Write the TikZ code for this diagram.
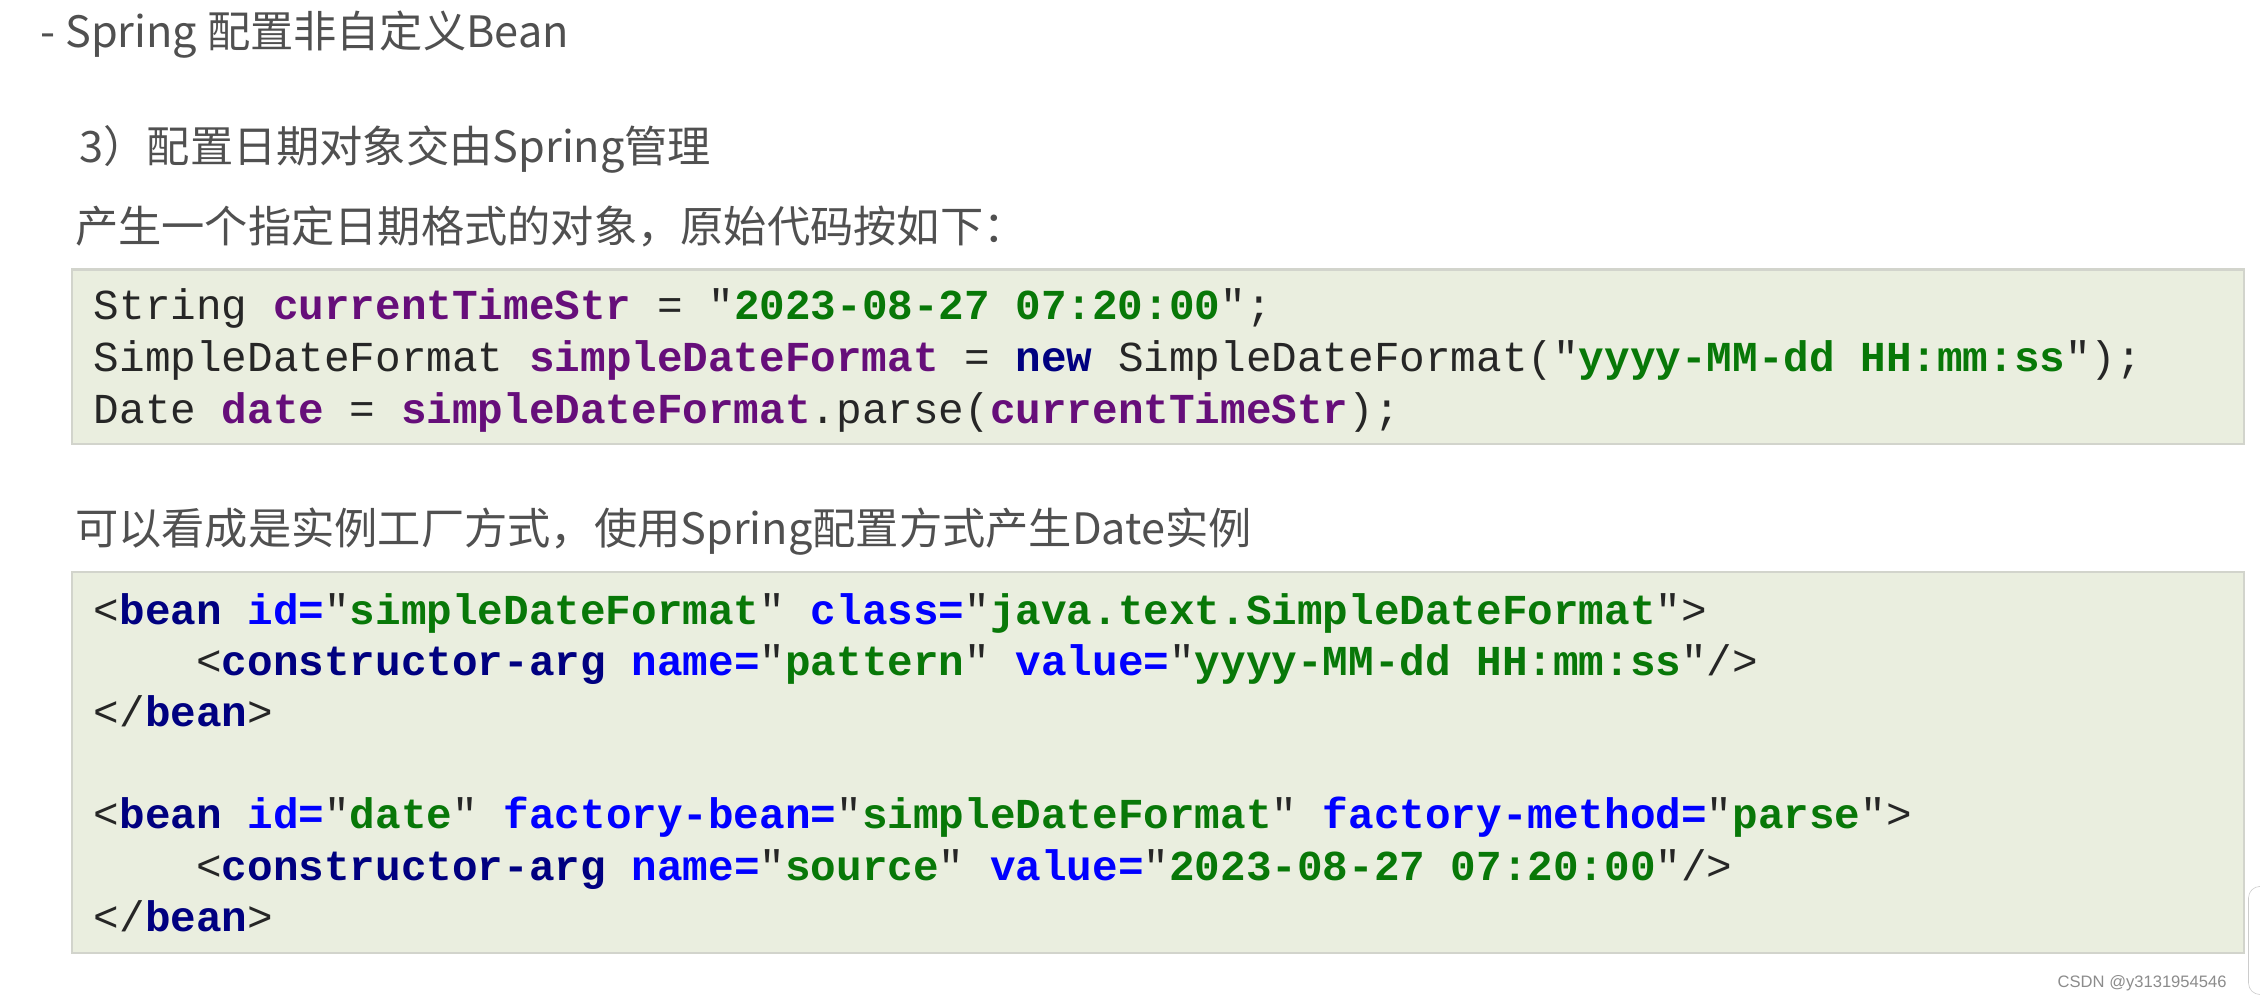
\documentclass[tikz,border=0pt]{standalone}
\usepackage{fontspec}
\setmainfont{Noto Sans CJK SC}
\newfontfamily\codefont{Liberation Mono}
\newfontfamily\wmfont{Liberation Sans}
\definecolor{txt}{HTML}{505050}
\definecolor{boxfill}{HTML}{EAEEDF}
\definecolor{boxline}{HTML}{D2D4CC}
\definecolor{cvarc}{HTML}{660E7A}
\definecolor{cstrc}{HTML}{087808}
\definecolor{ckwc}{HTML}{000080}
\definecolor{cattrc}{HTML}{0000FF}
\newcommand\cvar[1]{\textcolor{cvarc}{\bfseries #1}}
\newcommand\cstrg[1]{\textcolor{cstrc}{\bfseries #1}}
\newcommand\ckw[1]{\textcolor{ckwc}{\bfseries #1}}
\newcommand\cattr[1]{\textcolor{cattrc}{\bfseries #1}}
\newcommand\ind{\phantom{xxxx}}
\begin{document}
\begin{tikzpicture}[x=1pt,y=-1pt,
  para/.style={anchor=base west,inner sep=0,text=txt,font=\fontsize{30}{36}\selectfont},
  code/.style={anchor=base west,inner sep=0,text=black!85,font=\codefont\fontsize{29.6}{36}\selectfont},
  codebox/.style={draw=boxline,line width=1.5pt,fill=boxfill}]
\useasboundingbox (0,0) rectangle (1568,695);
\fill[white] (0,0) rectangle (1568,695);
\node[para] (t1) at (28,33) {- Spring 配置非自定义Bean};
\node[para] (t2) at (55,113) {3）配置日期对象交由Spring管理};
\node[para] (t3) at (52,168) {产生一个指定日期格式的对象，原始代码按如下：};
\draw[codebox] (50,187) rectangle (1557,308);
\node[code] (a1) at (65,222) {String \cvar{currentTimeStr} = "\cstrg{2023-08-27 07:20:00}";};
\node[code] (a2) at (65,258) {SimpleDateFormat \cvar{simpleDateFormat} = \ckw{new} SimpleDateFormat("\cstrg{yyyy-MM-dd HH:mm:ss}");};
\node[code] (a3) at (65,294) {Date \cvar{date} = \cvar{simpleDateFormat}.parse(\cvar{currentTimeStr});};
\node[para] (t4) at (52,378) {可以看成是实例工厂方式，使用Spring配置方式产生Date实例};
\draw[codebox] (50,397) rectangle (1557,661);
\node[code] (b1) at (65,433) {<\ckw{bean} \cattr{id=}"\cstrg{simpleDateFormat}" \cattr{class=}"\cstrg{java.text.SimpleDateFormat}">};
\node[code] (b2) at (65,469) {\ind<\ckw{constructor-arg} \cattr{name=}"\cstrg{pattern}" \cattr{value=}"\cstrg{yyyy-MM-dd HH:mm:ss}"/>};
\node[code] (b3) at (65,504) {</\ckw{bean}>};
\node[code] (b4) at (65,575) {<\ckw{bean} \cattr{id=}"\cstrg{date}" \cattr{factory-bean=}"\cstrg{simpleDateFormat}" \cattr{factory-method=}"\cstrg{parse}">};
\node[code] (b5) at (65,611) {\ind<\ckw{constructor-arg} \cattr{name=}"\cstrg{source}" \cattr{value=}"\cstrg{2023-08-27 07:20:00}"/>};
\node[code] (b6) at (65,646) {</\ckw{bean}>};
\draw[draw=black!20,fill=white,rounded corners=8pt] (1560,615) rectangle (1600,690);
\node[anchor=base east,inner sep=0,text=black!45,font=\wmfont\fontsize{11.5}{13}\selectfont] (wm) at (1545,685) {CSDN @y3131954546};
\end{tikzpicture}
\end{document}
